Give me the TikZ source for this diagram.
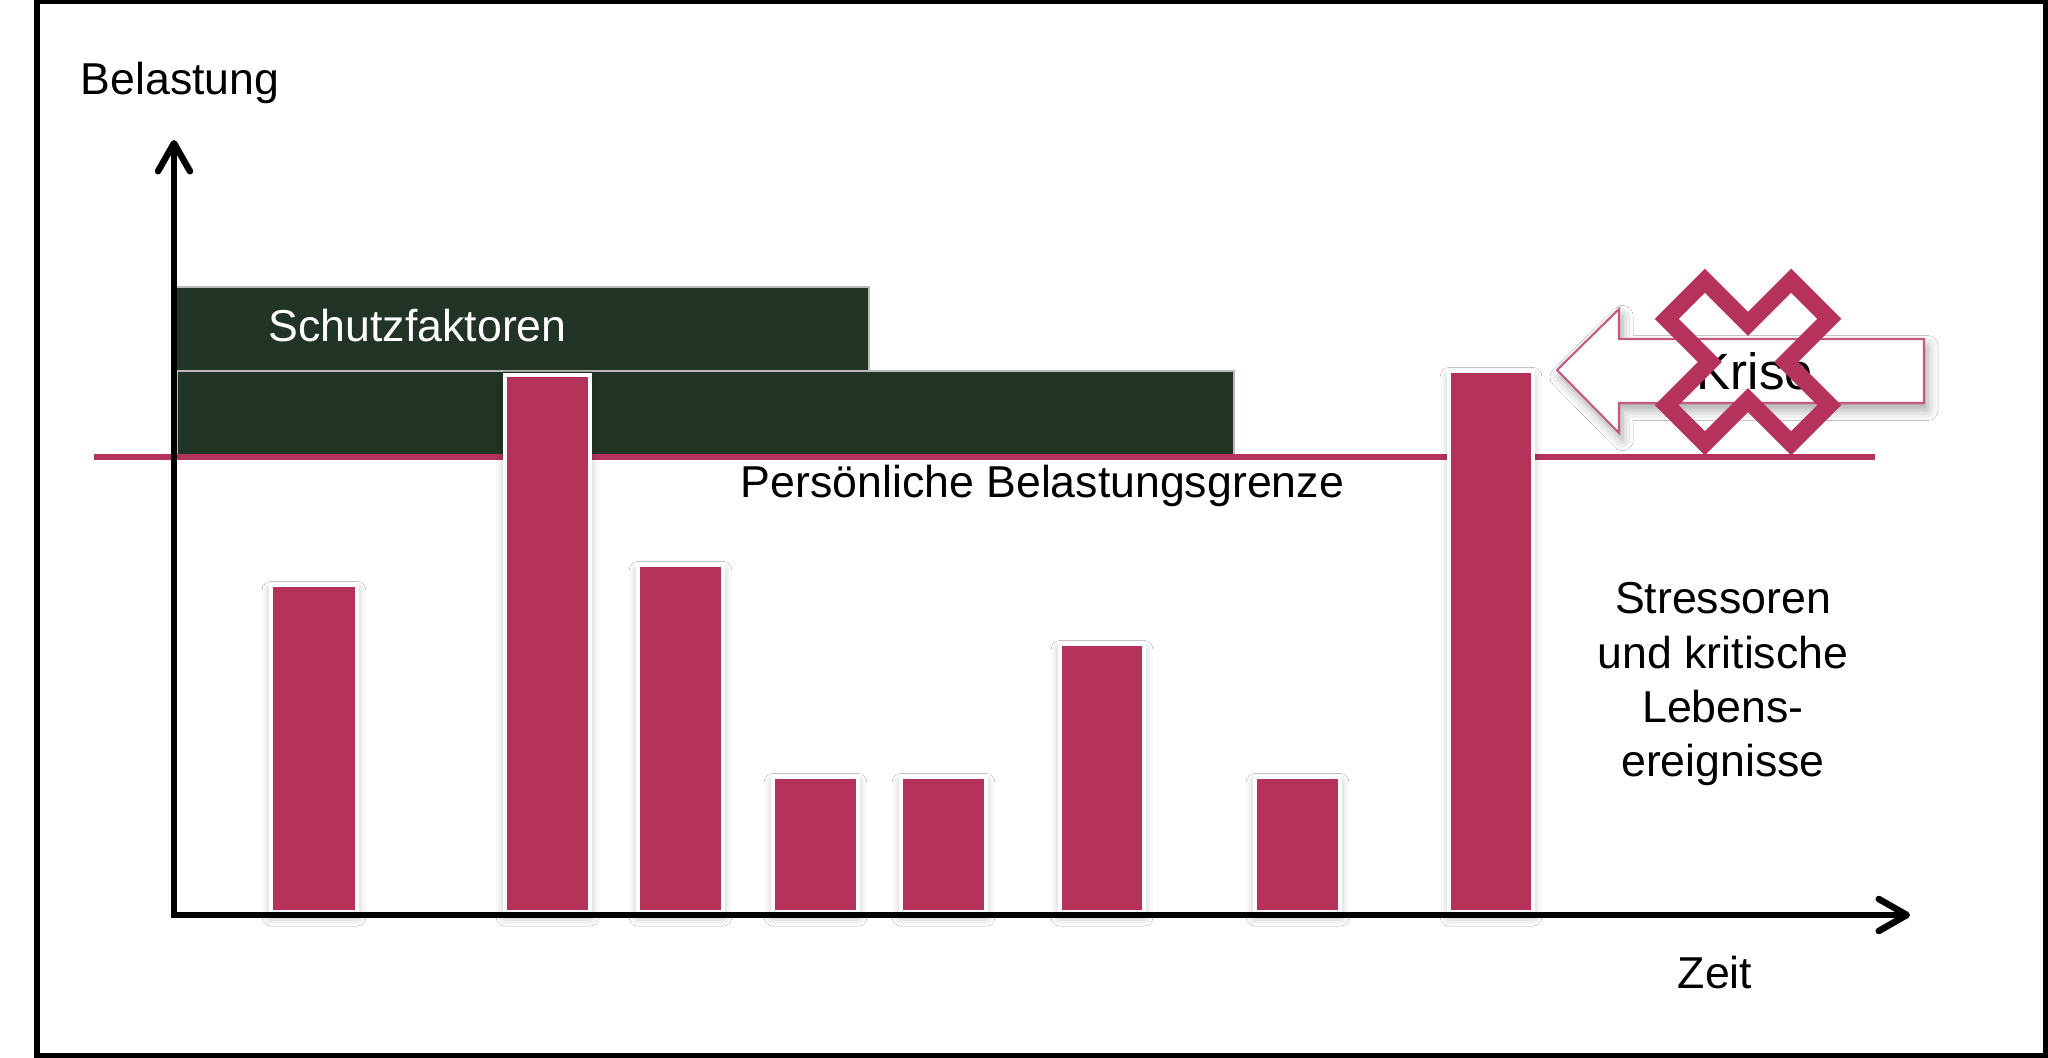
\documentclass[tikz,border=0pt]{standalone}
\usepackage{fontspec}
\setmainfont{Liberation Sans}
\usetikzlibrary{arrows.meta,shadows.blur}
\definecolor{barred}{RGB}{181,50,91}
\definecolor{darkgreen}{RGB}{33,52,37}
\begin{document}
\begin{tikzpicture}[x=0.01cm,y=-0.01cm,
  lbl/.style={inner sep=0pt,font=\fontsize{12.7}{15.4}\selectfont},
  axisline/.style={line width=0.065cm,-{Straight Barb[length=0.28cm,width=0.32cm,line cap=round,line join=round]}},
  barbox/.style={fill=barred,draw=white,line width=0.045cm,
     blur shadow={shadow xshift=0pt,shadow yshift=-1.5pt,shadow blur radius=2.5pt,shadow opacity=30}},
  greenbox/.style={fill=darkgreen,draw=gray!55,line width=0.4pt},
  limitline/.style={draw=barred,line width=0.055cm},
  crossmark/.style={draw=barred,line width=0.17cm,line join=miter},
  krisearrow/.style={fill=white,draw=barred!80,line width=0.6pt,
     blur shadow={shadow xshift=1pt,shadow yshift=-2pt,shadow blur radius=3pt,shadow opacity=35}}
]
\useasboundingbox (0,0) rectangle (2048,1058);
\fill[white] (0,0) rectangle (2048,1058);
% frame
\draw[line width=0.05cm] (37,2) rectangle (2045,1055);

% protective factors
\path[greenbox] (175,287) rectangle (869,371);
\path[greenbox] (177,371) rectangle (1234,455);
\node[lbl,text=white,anchor=base west] (schutz) at (268,342) {Schutzfaktoren};

% personal limit
\coordinate (limA) at (94,457);
\coordinate (limB) at (1875,457);
\draw[limitline] (limA) -- (limB);
\node[lbl,anchor=base west] (limit) at (740,498) {Persönliche Belastungsgrenze};

% bars
\foreach \n/\xa/\xb/\yt in {1/273/355/587, 2/507/588/377, 3/640/721/567, 4/775/856/779,
                            5/903/984/779, 6/1062/1142/646, 7/1257/1338/779, 8/1451/1531/373}{
  \path[barbox] (\xa-2,\yt-2) rectangle (\xb+2,912);
}

% axes
\coordinate (ybase) at (174,913);
\coordinate (ytip) at (174,140);
\coordinate (xstart) at (171,915);
\coordinate (xtip) at (1910,915);
\draw[axisline] (ybase) -- (ytip);
\draw[axisline] (xstart) -- (xtip);

\node[lbl,anchor=base west] (belastung) at (80,95) {Belastung};
\node[lbl,anchor=base west] (zeit) at (1677,988) {Zeit};

\node[lbl,align=center,anchor=north] (stress) at (1723,582)
  {Stressoren\\und kritische\\Lebens-\\ereignisse};

% Krise arrow
\path[krisearrow] (1557,370) -- (1619,309) -- (1619,339) -- (1924,339) -- (1924,403)
   -- (1619,403) -- (1619,433) -- cycle;
\node[inner sep=0pt,font=\fontsize{14.5}{16}\selectfont,anchor=base] (krise) at (1755,390) {Krise};

% cross
\begin{scope}[shift={(1748,362)},rotate=45]
  \draw[crossmark] (27,27) -- (88,27) -- (88,-27) -- (27,-27) -- (27,-88) -- (-27,-88)
     -- (-27,-27) -- (-88,-27) -- (-88,27) -- (-27,27) -- (-27,88) -- (27,88) -- cycle;
\end{scope}
\end{tikzpicture}
\end{document}
